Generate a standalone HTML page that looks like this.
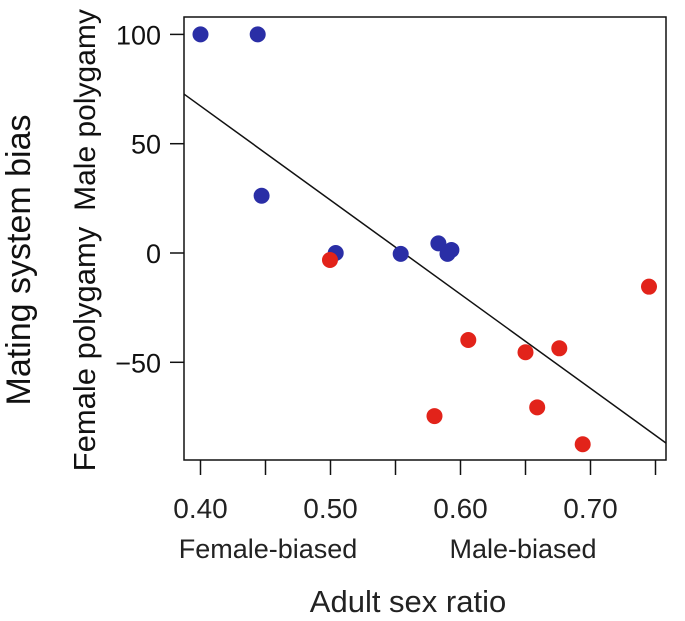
<!DOCTYPE html>
<html><head><meta charset="utf-8"><style>
body{margin:0;background:#fff;}
svg{display:block;font-family:"Liberation Sans",sans-serif;}
</style></head><body>
<svg id="chart" width="685" height="621">
<g id="axes"></g>
<g id="marks"></g>
<text x="30" y="260" transform="rotate(-90 30 260)" text-anchor="middle" font-size="34" fill="#111">Mating system bias</text>
<text x="95" y="349" transform="rotate(-90 95 349)" text-anchor="middle" font-size="31" fill="#111">Female polygamy</text>
<text x="95" y="110" transform="rotate(-90 95 110)" text-anchor="middle" font-size="30" fill="#111">Male polygamy</text>
<text x="268" y="558" text-anchor="middle" font-size="27" fill="#222">Female-biased</text>
<text x="523" y="558" text-anchor="middle" font-size="27" fill="#222">Male-biased</text>
<text x="408" y="612" text-anchor="middle" font-size="31" fill="#222">Adult sex ratio</text>
</svg>
<script>
const blueX=[0.400,0.444,0.447,0.504,0.554,0.583,0.590,0.593];
const blueY=[100,100,26.2,0,-0.4,4.4,-0.4,1.4];
const redX=[0.4996,0.606,0.650,0.676,0.745,0.580,0.659,0.694];
const redY=[-3.2,-39.8,-45.4,-43.6,-15.4,-74.6,-70.6,-87.5];
const xTicks=[0.40,0.45,0.50,0.55,0.60,0.65,0.70,0.75];
const xTickLabels=["0.40","","0.50","","0.60","","0.70",""];
const yTicks=[100,50,0,-50];
const yTickLabels=["100","50","0","\u221250"];
const fitX=[0.3873,0.758];
const fitY=[72.7,-86.9];

const NS="http://www.w3.org/2000/svg";
const L=184,T=17,R=666,B=460;
const sx=v=>200.5+(v-0.40)*1300;
const sy=v=>253-v*2.186;
const axes=document.getElementById('axes'),marks=document.getElementById('marks');
function mk(tag,attrs,parent){const e=document.createElementNS(NS,tag);for(const k in attrs)e.setAttribute(k,attrs[k]);parent.appendChild(e);return e;}
const box=mk('rect',{x:L,y:T,width:R-L,height:B-T,fill:'none',stroke:'#111','stroke-width':1.5},axes);


xTicks.forEach((t,i)=>{
  const ln=mk('line',{x1:sx(t),x2:sx(t),y1:B,y2:B+15,stroke:'#111','stroke-width':1.5},axes);
  
  
  if(xTickLabels[i]){
    const tx=mk('text',{x:sx(t),y:518,'text-anchor':'middle','font-size':28,fill:'#222'},axes);
    tx.textContent=xTickLabels[i];
    
    
  }
});
yTicks.forEach((t,i)=>{
  const ln=mk('line',{x1:170,x2:L,y1:sy(t),y2:sy(t),stroke:'#111','stroke-width':1.5},axes);
  
  
  const tx=mk('text',{x:161,y:sy(t)+10,'text-anchor':'end','font-size':27,fill:'#111'},axes);
  tx.textContent=yTickLabels[i];
  
  
});
const fl=mk('line',{x1:sx(fitX[0]),y1:sy(fitY[0]),x2:sx(fitX[1]),y2:sy(fitY[1]),stroke:'#111','stroke-width':1.5},marks);


blueX.forEach((v,i)=>{
  const c=mk('circle',{cx:sx(v),cy:sy(blueY[i]),r:8,fill:'#2a2ea6'},marks);
  
  
});
redX.forEach((v,i)=>{
  const c=mk('circle',{cx:sx(v),cy:sy(redY[i]),r:8,fill:'#e2231a'},marks);
  
  
});
</script>
</body></html>
